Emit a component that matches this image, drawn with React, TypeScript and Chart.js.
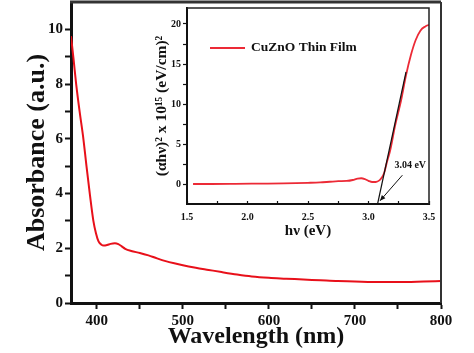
import React, { useEffect, useRef } from 'react';
import { Chart, registerables } from 'chart.js';
Chart.register(...registerables);

const FONT = '"Liberation Serif", "Times New Roman", serif';
const INK = '#111111';
const RED = '#e8101a';
const RED_INSET = '#ec2a36';

// ---- main spectrum ----
const WAVELENGTH = [370, 373, 376, 380, 384, 388, 392, 396, 399, 402, 405, 408, 412, 416, 421, 425, 429, 433, 440, 450, 460, 470, 480, 490, 500, 515, 530, 545, 563, 580, 600, 620, 640, 660, 680, 700, 720, 740, 760, 780, 800];
const ABSORBANCE = [9.75, 8.9, 8.0, 7.0, 6.1, 5.0, 3.95, 3.0, 2.55, 2.25, 2.14, 2.1, 2.12, 2.16, 2.18, 2.15, 2.07, 1.98, 1.9, 1.83, 1.74, 1.63, 1.53, 1.45, 1.38, 1.29, 1.21, 1.13, 1.04, 0.97, 0.92, 0.89, 0.86, 0.83, 0.8, 0.79, 0.77, 0.77, 0.77, 0.79, 0.8];
const MAIN_X_TICKS = [400, 450, 500, 550, 600, 650, 700, 750, 800];
const MAIN_X_LABELS = [400, 500, 600, 700, 800];
const MAIN_Y_TICKS = [0, 1, 2, 3, 4, 5, 6, 7, 8, 9, 10];
const MAIN_Y_LABELS = [0, 2, 4, 6, 8, 10];
const MAIN_X_TITLE = 'Wavelength (nm)';
const MAIN_Y_TITLE = 'Absorbance (a.u.)';

// ---- inset Tauc plot ----
const PHOTON_ENERGY = [1.55, 1.7, 1.9, 2.1, 2.3, 2.5, 2.6, 2.68, 2.75, 2.82, 2.87, 2.91, 2.94, 2.97, 3.0, 3.03, 3.06, 3.09, 3.11, 3.13, 3.15, 3.18, 3.22, 3.27, 3.31, 3.35, 3.39, 3.43, 3.47, 3.5];
const TAUC = [0, 0, 0.02, 0.05, 0.08, 0.15, 0.2, 0.28, 0.35, 0.38, 0.5, 0.68, 0.72, 0.62, 0.4, 0.25, 0.25, 0.45, 0.8, 1.4, 2.6, 4.25, 7.3, 10.5, 13.6, 16.1, 18.0, 19.2, 19.7, 19.9];
const FIT_ENERGY = [3.075, 3.31];
const FIT_TAUC = [-2.5, 14];
const INSET_X_TICKS = [1.5, 1.75, 2.0, 2.25, 2.5, 2.75, 3.0, 3.25, 3.5];
const INSET_X_LABELS = [1.5, 2.0, 2.5, 3.0, 3.5];
const INSET_Y_TICKS = [0, 2.5, 5, 7.5, 10, 12.5, 15, 17.5, 20];
const INSET_Y_LABELS = [0, 5, 10, 15, 20];
const INSET_X_TITLE = 'h\u03bd (eV)';
const INSET_Y_TITLE = '(\u03b1h\u03bd)\u00b2 x 10\u00b9\u2075 (eV/cm)\u00b2';
const SERIES_LABEL = 'CuZnO Thin Film';
const GAP_LABEL = '3.04 eV';
const GAP_LABEL_AT = [3.345, 2.3];
const GAP_ARROW_FROM = [3.28, 1.1];
const GAP_ARROW_TO = [3.095, -2.1];

const has = (list: number[], v: number) => list.some((x) => Math.abs(x - v) < 1e-6);

const mainFrame = {
  id: 'mainFrame',
  afterDraw(chart: any) {
    const { ctx, chartArea: a } = chart;
    ctx.save();
    ctx.strokeStyle = '#333';
    ctx.lineWidth = 3;
    ctx.beginPath();
    ctx.moveTo(a.left - 1, a.top);
    ctx.lineTo(a.right, a.top);
    ctx.stroke();
    ctx.lineWidth = 2;
    ctx.beginPath();
    ctx.moveTo(a.right, a.top);
    ctx.lineTo(a.right, a.bottom);
    ctx.stroke();
    ctx.restore();
  },
};

const insetDecor = {
  id: 'insetDecor',
  afterDraw(chart: any) {
    const { ctx, chartArea: a, scales } = chart;
    const sx = scales.x;
    const sy = scales.y;
    ctx.save();
    ctx.strokeStyle = '#222';
    ctx.lineWidth = 1.5;
    ctx.beginPath();
    ctx.moveTo(a.left, a.top);
    ctx.lineTo(a.right, a.top);
    ctx.lineTo(a.right, a.bottom);
    ctx.stroke();

    // legend
    const ly = a.top + 40;
    ctx.strokeStyle = RED_INSET;
    ctx.lineWidth = 2;
    ctx.beginPath();
    ctx.moveTo(a.left + 23, ly);
    ctx.lineTo(a.left + 58, ly);
    ctx.stroke();
    ctx.fillStyle = INK;
    ctx.font = `bold 13.5px ${FONT}`;
    ctx.textBaseline = 'middle';
    ctx.textAlign = 'left';
    ctx.fillText(SERIES_LABEL, a.left + 64, ly);

    // band gap annotation
    ctx.font = `bold 10px ${FONT}`;
    ctx.textAlign = 'center';
    ctx.fillText(GAP_LABEL, sx.getPixelForValue(GAP_LABEL_AT[0]), sy.getPixelForValue(GAP_LABEL_AT[1]));
    const x1 = sx.getPixelForValue(GAP_ARROW_FROM[0]);
    const y1 = sy.getPixelForValue(GAP_ARROW_FROM[1]);
    const x2 = sx.getPixelForValue(GAP_ARROW_TO[0]);
    const y2 = sy.getPixelForValue(GAP_ARROW_TO[1]);
    ctx.strokeStyle = INK;
    ctx.lineWidth = 1;
    ctx.beginPath();
    ctx.moveTo(x1, y1);
    ctx.lineTo(x2, y2);
    ctx.stroke();
    const ang = Math.atan2(y2 - y1, x2 - x1);
    const L = 6;
    ctx.beginPath();
    ctx.moveTo(x2, y2);
    ctx.lineTo(x2 - L * Math.cos(ang - 0.4), y2 - L * Math.sin(ang - 0.4));
    ctx.lineTo(x2 - L * Math.cos(ang + 0.4), y2 - L * Math.sin(ang + 0.4));
    ctx.closePath();
    ctx.fillStyle = INK;
    ctx.fill();
    ctx.restore();
  },
};

export default function App() {
  const mainRef = useRef<HTMLCanvasElement>(null);
  const insetRef = useRef<HTMLCanvasElement>(null);

  useEffect(() => {
    const tickFont = { family: FONT, weight: 'bold' as const, size: 15 };
    const main = new Chart(mainRef.current!, {
      type: 'line',
      data: {
        datasets: [
          {
            data: WAVELENGTH.map((x, i) => ({ x, y: ABSORBANCE[i] })),
            borderColor: RED,
            borderWidth: 2,
            pointRadius: 0,
            cubicInterpolationMode: 'monotone',
            fill: false,
          },
        ],
      },
      options: {
        responsive: false,
        animation: false,
        devicePixelRatio: 1,
        layout: { padding: { top: 2, right: 33, left: 0, bottom: 0 } },
        plugins: { legend: { display: false }, tooltip: { enabled: false } },
        scales: {
          x: {
            type: 'linear',
            min: 370,
            max: 800,
            afterBuildTicks: (s: any) => {
              s.ticks = MAIN_X_TICKS.map((value) => ({ value }));
            },
            afterFit: (s: any) => {
              s.height = 50;
              s.paddingLeft = 0;
              s.paddingRight = 0;
            },
            ticks: {
              autoSkip: false,
              maxRotation: 0,
              padding: 3,
              color: INK,
              font: tickFont,
              callback: (v: any) => (has(MAIN_X_LABELS, v) ? String(v) : ''),
            },
            grid: { drawOnChartArea: false, tickLength: 6, tickWidth: 2, tickColor: INK },
            border: { display: true, width: 3, color: INK },
            title: {
              display: true,
              text: MAIN_X_TITLE,
              color: INK,
              font: { family: FONT, weight: 'bold', size: 24 },
              padding: { top: 0, bottom: 2 },
            },
          },
          y: {
            type: 'linear',
            min: 0,
            max: 11,
            afterBuildTicks: (s: any) => {
              s.ticks = MAIN_Y_TICKS.map((value) => ({ value }));
            },
            afterFit: (s: any) => {
              s.width = 71;
              s.paddingTop = 0;
              s.paddingBottom = 0;
            },
            ticks: {
              autoSkip: false,
              padding: 2,
              color: INK,
              font: tickFont,
              callback: (v: any) => (has(MAIN_Y_LABELS, v) ? String(v) : ''),
            },
            grid: { drawOnChartArea: false, tickLength: 6, tickWidth: 2, tickColor: INK },
            border: { display: true, width: 3, color: INK },
            title: {
              display: true,
              text: MAIN_Y_TITLE,
              color: INK,
              font: { family: FONT, weight: 'bold', size: 26 },
              padding: { top: 22, bottom: 0 },
            },
          },
        },
      },
      plugins: [mainFrame],
    } as any);

    const insetTickFont = { family: FONT, weight: 'bold' as const, size: 10 };
    const inset = new Chart(insetRef.current!, {
      type: 'line',
      data: {
        datasets: [
          {
            data: FIT_ENERGY.map((x, i) => ({ x, y: FIT_TAUC[i] })),
            borderColor: INK,
            borderWidth: 1.2,
            pointRadius: 0,
            fill: false,
          },
          {
            data: PHOTON_ENERGY.map((x, i) => ({ x, y: TAUC[i] })),
            borderColor: RED_INSET,
            borderWidth: 1.8,
            pointRadius: 0,
            cubicInterpolationMode: 'monotone',
            fill: false,
          },
        ],
      },
      options: {
        responsive: false,
        animation: false,
        devicePixelRatio: 1,
        layout: { padding: { top: 8, right: 11, left: 0, bottom: 0 } },
        plugins: { legend: { display: false }, tooltip: { enabled: false } },
        scales: {
          x: {
            type: 'linear',
            min: 1.5,
            max: 3.5,
            afterBuildTicks: (s: any) => {
              s.ticks = INSET_X_TICKS.map((value) => ({ value }));
            },
            afterFit: (s: any) => {
              s.height = 41;
              s.paddingLeft = 0;
              s.paddingRight = 0;
            },
            ticks: {
              autoSkip: false,
              maxRotation: 0,
              padding: 10,
              color: INK,
              font: insetTickFont,
              callback: (v: any) => (has(INSET_X_LABELS, v) ? Number(v).toFixed(1) : ''),
            },
            grid: { drawOnChartArea: false, tickLength: -3, tickWidth: 1.2, tickColor: INK },
            border: { display: true, width: 2, color: INK },
            title: {
              display: true,
              text: INSET_X_TITLE,
              color: INK,
              font: { family: FONT, weight: 'bold', size: 15 },
              padding: { top: 0, bottom: 5 },
            },
          },
          y: {
            type: 'linear',
            min: -2.5,
            max: 22,
            afterBuildTicks: (s: any) => {
              s.ticks = INSET_Y_TICKS.map((value) => ({ value }));
            },
            afterFit: (s: any) => {
              s.width = 47;
              s.paddingTop = 0;
              s.paddingBottom = 0;
            },
            ticks: {
              autoSkip: false,
              padding: 2,
              color: INK,
              font: insetTickFont,
              callback: (v: any) => (has(INSET_Y_LABELS, v) ? String(v) : ''),
            },
            grid: { drawOnChartArea: false, tickLength: 4, tickWidth: 1.2, tickColor: INK },
            border: { display: true, width: 2, color: INK },
            title: {
              display: true,
              text: INSET_Y_TITLE,
              color: INK,
              font: { family: FONT, weight: 'bold', size: 15.5 },
              padding: { top: 13, bottom: 0 },
            },
          },
        },
      },
      plugins: [insetDecor],
    } as any);

    return () => {
      main.destroy();
      inset.destroy();
    };
  }, []);

  return (
    <div style={{ position: 'fixed', left: 0, top: 0, width: 474, height: 353, background: '#fff' }}>
      <canvas ref={mainRef} width={474} height={353} style={{ position: 'absolute', left: 0, top: 0, width: 474, height: 353 }} />
      <canvas ref={insetRef} width={300} height={245} style={{ position: 'absolute', left: 140, top: 0, width: 300, height: 245 }} />
    </div>
  );
}
